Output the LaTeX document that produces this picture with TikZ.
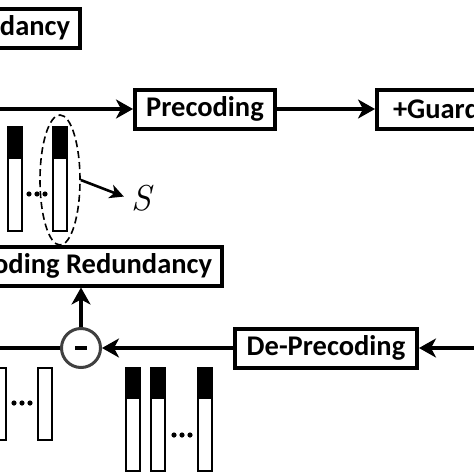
\documentclass[tikz,border=0pt]{standalone}
\usepackage{fontspec}
\setmainfont{Carlito}
\newfontfamily\symbolfont{Latin Modern Roman}
\usetikzlibrary{arrows.meta,shapes.geometric}
\tikzstyle{blockbox} = [
    draw,
    line width=4pt,
    fill=white,
    font=\bfseries\fontsize{28.5}{28.5}\selectfont,
    inner xsep=10pt,
    inner ysep=0pt,
    minimum height=39pt
    ]
\tikzstyle{flow} = [line width=3.5pt, -{Stealth[length=17pt,width=19pt,inset=5pt]}]
\tikzstyle{pointer} = [line width=2.6pt, -{Stealth[length=14pt,width=14pt,inset=4pt]}]
\tikzstyle{minuscircle} = [
    draw=black!75,
    circle,
    line width=3pt,
    minimum size=39pt,
    inner sep=0pt
    ]
\tikzstyle{barframe} = [line width=2.2pt]
\tikzstyle{selection} = [draw, ellipse, dash pattern=on 7pt off 4pt, line width=1.6pt, inner sep=0pt]

\begin{document}
\begin{tikzpicture}[x=1pt,y=-1pt]
\useasboundingbox (0,0) rectangle (474,474);
\clip (0,0) rectangle (474,474);

% transmitter side
\node [blockbox, anchor=east] (redund) at (82,28) {Redundancy};
\node [blockbox, minimum width=140pt] (pre) at (205,109) {Precoding};
\node [blockbox, anchor=west, inner xsep=16pt] (guard) at (375,109) {+Guard Interval};
\coordinate (txin) at (-10,109);
\draw [flow] (txin) -- (pre);
\draw [flow] (pre) -- (guard);

% precoded blocks
\foreach \x in {8,53}{
    \draw [barframe] (\x,127) rectangle (\x+14,231);
    \fill (\x,127) rectangle (\x+14,159);
}
\foreach \d in {0,1,2} \fill (29+8*\d,194) circle (2.6pt);
\node [selection, minimum width=40pt, minimum height=130pt] (sel) at (60,180) {};
\node [font=\symbolfont\itshape\fontsize{36}{36}\selectfont] (sym) at (141,198) {S};
\draw [pointer, shorten >=4pt] (sel.east) -- (sym.west);

% receiver side
\node [blockbox, anchor=east] (est) at (224,266) {Precoding Redundancy};
\node [blockbox, minimum width=182pt] (depre) at (326,348) {De-Precoding};
\node [minuscircle] (sub) at (81,348) {\rule{12pt}{4.5pt}};
\coordinate (rxin) at (484,348);
\coordinate (rxout) at (-10,348);
\draw [flow] (rxin) -- (depre);
\draw [flow] (depre) -- (sub);
\draw [line width=3.5pt] (sub) -- (rxout);
\draw [flow] (sub.north) -- (sub.north |- est.south);

% received blocks
\foreach \x in {-8,38}
    \draw [barframe] (\x,368) rectangle (\x+14,440);
\foreach \d in {0,1,2} \fill (14+8*\d,403) circle (2.6pt);
\foreach \x in {126,151,198}{
    \draw [barframe] (\x,368) rectangle (\x+14,471);
    \fill (\x,368) rectangle (\x+14,399);
}
\foreach \d in {0,1,2} \fill (174+8*\d,435) circle (2.6pt);
\end{tikzpicture}
\end{document}
